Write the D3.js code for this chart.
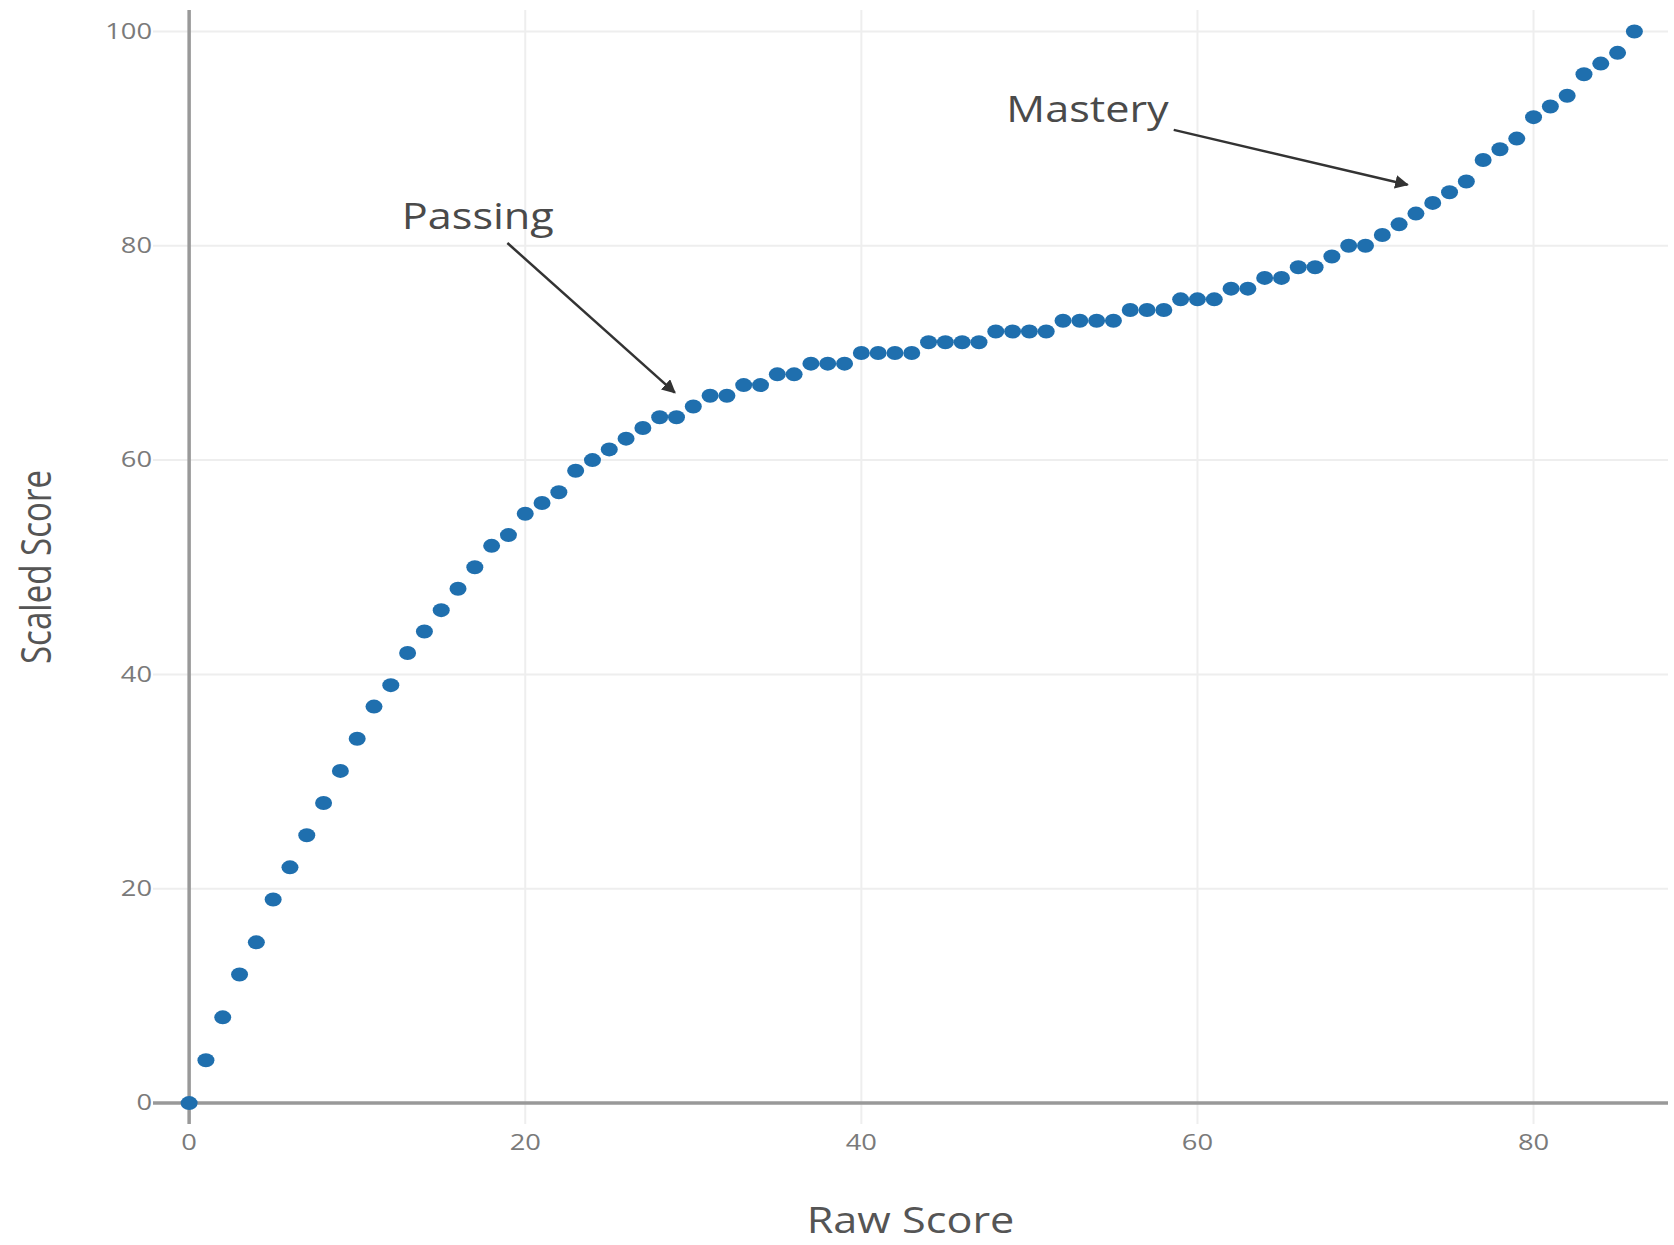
<!DOCTYPE html>
<meta charset="utf-8">
<script src="https://d3js.org/d3.v7.min.js"></script>
<style>
  body { margin: 0; background: #fff; }
  text { font-family: "Open Sans", sans-serif; }
</style>
<div id="my_dataviz"></div>
<script>

// raw score on the x axis, scaled score on the y axis
var rawScores = [0, 1, 2, 3, 4, 5, 6, 7, 8, 9, 10, 11, 12, 13, 14, 15, 16, 17, 18, 19,
  20, 21, 22, 23, 24, 25, 26, 27, 28, 29, 30, 31, 32, 33, 34, 35, 36, 37, 38, 39,
  40, 41, 42, 43, 44, 45, 46, 47, 48, 49, 50, 51, 52, 53, 54, 55, 56, 57, 58, 59,
  60, 61, 62, 63, 64, 65, 66, 67, 68, 69, 70, 71, 72, 73, 74, 75, 76, 77, 78, 79,
  80, 81, 82, 83, 84, 85, 86];

var scaledScores = [0, 4, 8, 12, 15, 19, 22, 25, 28, 31, 34, 37, 39, 42, 44, 46, 48, 50, 52, 53,
  55, 56, 57, 59, 60, 61, 62, 63, 64, 64, 65, 66, 66, 67, 67, 68, 68, 69, 69, 69,
  70, 70, 70, 70, 71, 71, 71, 71, 72, 72, 72, 72, 73, 73, 73, 73, 74, 74, 74, 75,
  75, 75, 76, 76, 77, 77, 78, 78, 79, 80, 80, 81, 82, 83, 84, 85, 86, 88, 89, 90,
  92, 93, 94, 96, 97, 98, 100];

var xTicks = [0, 20, 40, 60, 80];
var yTicks = [0, 20, 40, 60, 80, 100];

// annotations: label, arrow target (data units)
var annotLabels = ["Passing", "Mastery"];
var annotX = [28.9, 72.5];
var annotY = [66.3, 85.7];

var width = 1674, height = 1245;
// the picture is a little wider than tall, text too
var stretch = 1.2;

var svg = d3.select("#my_dataviz")
  .append("svg")
    .attr("width", width)
    .attr("height", height);

var x = d3.scaleLinear()
  .domain([-2.15, 88])
  .range([153, 1668]);

var y = d3.scaleLinear()
  .domain([-1.95, 102])
  .range([1124, 10]);

// grid lines
svg.append("g")
  .selectAll("line")
  .data(xTicks.filter(function(d) { return d !== 0; }))
  .enter().append("line")
    .attr("x1", function(d) { return x(d); })
    .attr("x2", function(d) { return x(d); })
    .attr("y1", y.range()[1])
    .attr("y2", y.range()[0])
    .attr("stroke", "#eeeeee")
    .attr("stroke-width", 2);

svg.append("g")
  .selectAll("line")
  .data(yTicks.filter(function(d) { return d !== 0; }))
  .enter().append("line")
    .attr("x1", x.range()[0])
    .attr("x2", x.range()[1])
    .attr("y1", function(d) { return y(d); })
    .attr("y2", function(d) { return y(d); })
    .attr("stroke", "#eeeeee")
    .attr("stroke-width", 2);

// zero lines act as the axes
svg.append("line")
  .attr("x1", x.range()[0]).attr("x2", x.range()[1])
  .attr("y1", y(0)).attr("y2", y(0))
  .attr("stroke", "#999").attr("stroke-width", 3.5);

svg.append("line")
  .attr("x1", x(0)).attr("x2", x(0))
  .attr("y1", y.range()[1]).attr("y2", y.range()[0])
  .attr("stroke", "#999").attr("stroke-width", 3.5);

// tick labels (stretched sideways like the reference)
svg.append("g")
  .selectAll("text")
  .data(xTicks)
  .enter().append("text")
    .attr("transform", function(d) { return "translate(" + x(d) + "," + (y.range()[0] + 26) + ") scale(1.3,1)"; })
    .attr("text-anchor", "middle")
    .attr("fill", "#7a7a7a")
    .style("font-size", "21px")
    .text(function(d) { return d; });

svg.append("g")
  .selectAll("text")
  .data(yTicks)
  .enter().append("text")
    .attr("transform", function(d) { return "translate(" + (x.range()[0] - 1) + "," + y(d) + ") scale(1.3,1)"; })
    .attr("text-anchor", "end")
    .attr("dy", "0.35em")
    .attr("fill", "#7a7a7a")
    .style("font-size", "21px")
    .text(function(d) { return d; });

// axis titles
svg.append("text")
  .attr("transform", "translate(" + ((x.range()[0] + x.range()[1]) / 2) + ",1233) scale(" + stretch + ",1)")
  .attr("text-anchor", "middle")
  .attr("fill", "#555")
  .style("font-size", "36px")
  .text("Raw Score");

svg.append("text")
  .attr("transform", "translate(51," + ((y.range()[0] + y.range()[1]) / 2) + ") rotate(-90) scale(0.92,1.15)")
  .attr("text-anchor", "middle")
  .attr("fill", "#555")
  .style("font-size", "36px")
  .text("Scaled Score");

// points
svg.append("g")
  .selectAll("ellipse")
  .data(rawScores)
  .enter()
  .append("ellipse")
    .attr("cx", function(d) { return x(d); })
    .attr("cy", function(d, i) { return y(scaledScores[i]); })
    .attr("rx", 8.5)
    .attr("ry", 7)
    .attr("fill", "#1f6fae");

// annotations with arrows
svg.append("defs").append("marker")
  .attr("id", "arrowhead")
  .attr("viewBox", "0 0 10 10")
  .attr("refX", 9).attr("refY", 5)
  .attr("markerWidth", 5.5).attr("markerHeight", 5.5)
  .attr("markerUnits", "strokeWidth")
  .attr("orient", "auto")
  .append("path")
    .attr("d", "M0,0 L10,5 L0,10 z")
    .attr("fill", "#333");

// text offsets from the arrow target, in pixels
var annotDx = [-197, -320];
var annotDy = [-176, -75];

annotLabels.forEach(function(label, i) {
  var hx = x(annotX[i]), hy = y(annotY[i]);
  var tx = hx + annotDx[i], ty = hy + annotDy[i];
  var t = svg.append("text")
    .attr("transform", "translate(" + tx + "," + ty + ") scale(" + stretch + ",1)")
    .attr("dy", "0.35em")
    .attr("text-anchor", "middle")
    .attr("fill", "#4a4a4a")
    .style("font-size", "36px")
    .text(label);
  var bb = t.node().getBBox();
  var halfW = bb.width * stretch / 2 + 5, halfH = bb.height / 2 + 2;
  // where the line to the text centre leaves the text box
  var dx = tx - hx, dy = ty - hy;
  var s = Math.min(Math.abs(halfW / dx), Math.abs(halfH / dy));
  var ex = tx - dx * s, ey = ty - dy * s;
  svg.append("line")
    .attr("x1", ex).attr("y1", ey)
    .attr("x2", hx).attr("y2", hy)
    .attr("stroke", "#333")
    .attr("stroke-width", 2.5)
    .attr("marker-end", "url(#arrowhead)");
});

</script>
